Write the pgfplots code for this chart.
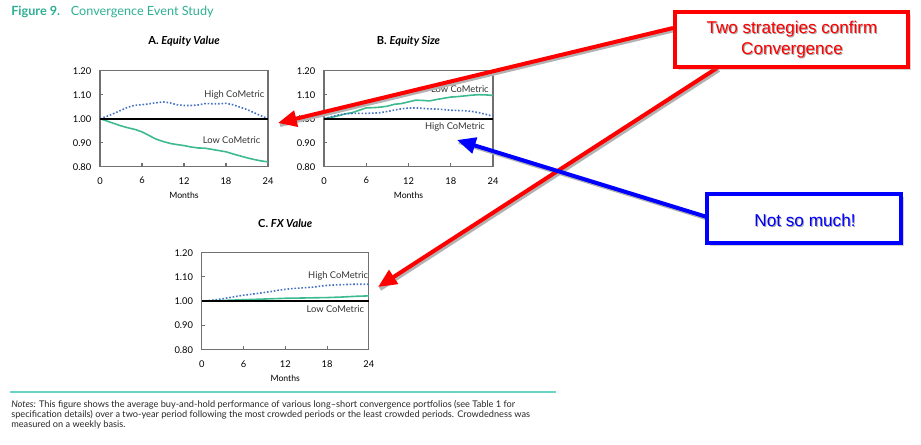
\documentclass[border=0pt]{standalone}
\usepackage{fontspec}
\setmainfont{Lato}
\newfontfamily\callfont{Liberation Sans}
\usepackage{pgfplots}
\pgfplotsset{compat=1.18}
\usetikzlibrary{arrows.meta,shadows}
\definecolor{teal1}{HTML}{2EAF93}
\definecolor{teal2}{HTML}{6AD3C3}
\definecolor{lowgreen}{HTML}{3DBA8E}
\definecolor{highblue}{HTML}{4472C4}
\definecolor{framegray}{HTML}{707070}
\tikzset{lab/.style={font=\fontsize{7}{8}\selectfont, text=black!80}}
\pgfplotsset{
  panel/.style={
    scale only axis, anchor=north west,
    xmin=0, xmax=24, ymin=0.80, ymax=1.20,
    xtick={0,6,12,18,24}, ytick={0.8,0.9,1.0,1.1,1.2},
    axis line style={framegray, line width=0.8pt},
    tick style={framegray, line width=0.8pt},
    tick align=inside, major tick length=2.5pt,
    xtick pos=bottom, ytick pos=left,
    /pgf/number format/assume math mode=true,
    y tick label style={/pgf/number format/fixed, /pgf/number format/fixed zerofill, /pgf/number format/precision=2},
    ticklabel style={font=\fontsize{7}{8}\selectfont},
    xticklabel style={anchor=center, yshift=-10.5pt},
    yticklabel style={xshift=-3pt},
    title style={at={(0.5,1)}, anchor=center, yshift=16pt, font=\fontsize{8.3}{10}\selectfont\bfseries},
    xlabel style={at={(0.5,0)}, anchor=center, yshift=-21.5pt, font=\fontsize{6.5}{8}\selectfont},
    xlabel={Months},
    clip=false,
  },
  lowline/.style={lowgreen, line width=1.2pt, no markers},
  highline/.style={highblue, line width=1.2pt, dash pattern=on 1.2pt off 1.4pt, no markers},
  zeroline/.style={black, line width=1.3pt, no markers},
}
\begin{document}
\begin{tikzpicture}[x=0.75pt,y=-0.75pt]
\useasboundingbox (0,0) rectangle (921,444);
% figure title
\node[anchor=base west, inner sep=0, text=teal1, font=\fontsize{9.5}{11}\selectfont] at (11,15) {\textbf{Figure 9.}\hspace{8pt}Convergence Event Study};

% Panel A
\begin{axis}[panel, at={(75pt,-53pt)}, width=126pt, height=72pt,
  title={A. \textit{Equity Value}}]
\addplot[highline] coordinates {(0,1.000)(1,1.010)(2,1.022)(3,1.035)(4,1.048)(5,1.056)(6,1.058)(7,1.062)(8,1.066)(9,1.070)(10,1.066)(11,1.058)(12,1.055)(13,1.055)(14,1.057)(15,1.063)(16,1.062)(17,1.062)(18,1.064)(19,1.058)(20,1.048)(21,1.038)(22,1.025)(23,1.012)(24,1.000)};
\addplot[lowline] coordinates {(0,1.000)(1,0.990)(2,0.980)(3,0.970)(4,0.962)(5,0.955)(6,0.945)(7,0.930)(8,0.915)(9,0.905)(10,0.897)(11,0.892)(12,0.888)(13,0.882)(14,0.878)(15,0.877)(16,0.872)(17,0.867)(18,0.862)(19,0.853)(20,0.845)(21,0.837)(22,0.830)(23,0.824)(24,0.820)};
\addplot[zeroline] coordinates {(0,1)(24,1)};
\node[lab] at (axis cs:19.2,1.099) {High CoMetric};
\node[lab] at (axis cs:18.8,0.911) {Low CoMetric};
\end{axis}

% Panel B
\begin{axis}[panel, at={(243pt,-53pt)}, width=126.75pt, height=72pt,
  title={B. \textit{Equity Size}}]
\addplot[lowline] coordinates {(0,1.000)(1,1.005)(2,1.012)(3,1.020)(4,1.025)(5,1.035)(6,1.045)(7,1.046)(8,1.048)(9,1.052)(10,1.060)(11,1.063)(12,1.070)(13,1.077)(14,1.076)(15,1.074)(16,1.080)(17,1.085)(18,1.090)(19,1.092)(20,1.095)(21,1.098)(22,1.100)(23,1.099)(24,1.097)};
\addplot[highline] coordinates {(0,1.000)(1,1.008)(2,1.015)(3,1.020)(4,1.022)(5,1.022)(6,1.022)(7,1.023)(8,1.025)(9,1.030)(10,1.036)(11,1.041)(12,1.044)(13,1.045)(14,1.043)(15,1.041)(16,1.040)(17,1.038)(18,1.035)(19,1.034)(20,1.033)(21,1.030)(22,1.025)(23,1.018)(24,1.010)};
\addplot[zeroline] coordinates {(0,1)(24,1)};
\node[lab] at (axis cs:19.3,1.122) {Low CoMetric};
\node[lab] at (axis cs:18.6,0.964) {High CoMetric};
\end{axis}

% Panel C
\begin{axis}[panel, at={(151.3pt,-189.5pt)}, width=125.3pt, height=72.8pt,
  title={C. \textit{FX Value}}]
\addplot[highline] coordinates {(0,1.000)(1,1.003)(2,1.006)(3,1.010)(4,1.015)(5,1.020)(6,1.025)(7,1.028)(8,1.032)(9,1.036)(10,1.040)(11,1.045)(12,1.049)(13,1.052)(14,1.054)(15,1.056)(16,1.058)(17,1.062)(18,1.065)(19,1.067)(20,1.068)(21,1.069)(22,1.070)(23,1.070)(24,1.070)};
\addplot[lowline] coordinates {(0,1.000)(2,1.002)(4,1.004)(6,1.006)(8,1.008)(10,1.010)(12,1.012)(14,1.013)(16,1.014)(18,1.015)(20,1.017)(22,1.020)(24,1.022)};
\addplot[zeroline] coordinates {(0,1)(24,1)};
\node[lab] at (axis cs:19.6,1.105) {High CoMetric};
\node[lab] at (axis cs:19.2,0.968) {Low CoMetric};
\end{axis}

% notes
\draw[teal2, line width=1.4pt] (10,392) -- (556,392);
\node[anchor=north west, inner sep=0, align=left, font=\fontsize{6.9}{7.6}\selectfont, text=black!85] at (11,400)
{\textit{Notes:} This figure shows the average buy-and-hold performance of various long--short convergence portfolios (see Table 1 for\\
specification details) over a two-year period following the most crowded periods or the least crowded periods. Crowdedness was\\
measured on a weekly basis.};

% callouts
\draw[black!30, line width=3pt] (675,30) -- (280,125);
\draw[black!30, line width=3pt] (719,70) -- (380,289);
\draw[black!30, line width=3pt] (709,219) -- (459,142);
\draw[red, line width=3pt, -{Triangle[length=14pt,width=12pt]}] (673,28) -- (278,123);
\draw[red, line width=3pt, -{Triangle[length=14pt,width=12pt]}] (717,68) -- (378,287);
\draw[blue, line width=3pt, -{Triangle[length=14pt,width=12pt]}] (707,217) -- (457,140);

\draw[red, line width=2.5pt, fill=white, drop shadow={shadow xshift=2pt, shadow yshift=-2pt, opacity=0.35}] (675,12) rectangle (908,67);
\draw[blue, line width=2.5pt, fill=white, drop shadow={shadow xshift=2pt, shadow yshift=-2pt, opacity=0.35}] (707,194) rectangle (901,243);

\node[align=center, font=\callfont\fontsize{12.8}{15.5}\selectfont, text=black!35] at (793,40.5) {Two strategies confirm\\Convergence};
\node[align=center, font=\callfont\fontsize{12.8}{15.5}\selectfont, text=red] at (792,39.5) {Two strategies confirm\\Convergence};
\node[font=\callfont\fontsize{12.9}{15}\selectfont, text=black!35] at (806,221) {Not so much!};
\node[font=\callfont\fontsize{12.9}{15}\selectfont, text=blue] at (805,220) {Not so much!};
\end{tikzpicture}
\end{document}
